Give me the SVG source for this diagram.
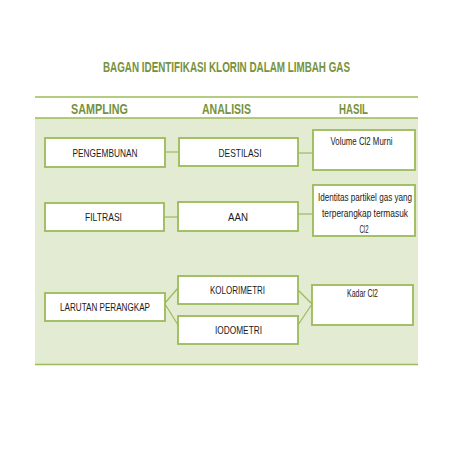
<svg xmlns="http://www.w3.org/2000/svg" width="453" height="453" viewBox="0 0 453 453">
<style>
.title{font-family:"Liberation Sans",Arial,sans-serif;font-weight:bold;fill:#76923c;text-anchor:middle}
.hdr{font-family:"Liberation Sans",Arial,sans-serif;font-weight:bold;fill:#76923c;text-anchor:middle;font-size:15.5px}
.box{fill:#ffffff;stroke:#9bbb59;stroke-width:1.8}
.lbl{font-family:"Liberation Sans",Arial,sans-serif;font-size:11px;fill:#1a1a1a;text-anchor:middle}
.rule{stroke:#9bbb59;stroke-width:1.5}
.con{stroke:#9bbb59;stroke-width:1.2;fill:none}
</style>
<rect width="453" height="453" fill="#ffffff"/>
<text class="title" x="226.5" y="72" font-size="14.5" textLength="247" lengthAdjust="spacingAndGlyphs">BAGAN IDENTIFIKASI KLORIN DALAM LIMBAH GAS</text>
<rect x="35" y="118" width="383" height="246" fill="#e3ebd3"/>
<line class="rule" x1="35" y1="97" x2="418" y2="97"/>
<line class="rule" x1="35" y1="118" x2="418" y2="118"/>
<line class="rule" x1="35" y1="364.5" x2="418" y2="364.5"/>
<text class="hdr" x="99.5" y="113.5" textLength="57" lengthAdjust="spacingAndGlyphs">SAMPLING</text>
<text class="hdr" x="226.5" y="113.5" textLength="49" lengthAdjust="spacingAndGlyphs">ANALISIS</text>
<text class="hdr" x="353.5" y="113.5" textLength="29" lengthAdjust="spacingAndGlyphs">HASIL</text>
<g id="connectors">
<line class="con" x1="165" y1="152" x2="179" y2="152"/>
<line class="con" x1="298" y1="153" x2="313" y2="153"/>
<line class="con" x1="164" y1="217" x2="178" y2="217"/>
<line class="con" x1="298" y1="214" x2="313" y2="214"/>
<line class="con" x1="165" y1="303" x2="178" y2="288"/>
<line class="con" x1="165" y1="304" x2="178" y2="325"/>
<line class="con" x1="298" y1="290" x2="312" y2="304"/>
<line class="con" x1="298" y1="325" x2="312" y2="304"/>
</g>
<g id="pengembunan"><rect class="box" x="45" y="138" width="120" height="29"/><text class="lbl" x="105" y="156.5" textLength="65" lengthAdjust="spacingAndGlyphs">PENGEMBUNAN</text></g>
<g id="destilasi"><rect class="box" x="179" y="138" width="119" height="28"/><text class="lbl" x="240" y="156.5" textLength="43" lengthAdjust="spacingAndGlyphs">DESTILASI</text></g>
<g id="volume"><rect class="box" x="313" y="130" width="102" height="40"/><text class="lbl" x="361.5" y="145" textLength="62" lengthAdjust="spacingAndGlyphs">Volume Cl2 Murni</text></g>
<g id="filtrasi"><rect class="box" x="45" y="203" width="119" height="28"/><text class="lbl" x="103.5" y="221" textLength="37" lengthAdjust="spacingAndGlyphs">FILTRASI</text></g>
<g id="aan"><rect class="box" x="178" y="202" width="120" height="29"/><text class="lbl" x="238" y="220.5" textLength="20" lengthAdjust="spacingAndGlyphs">AAN</text></g>
<g id="identitas"><rect class="box" x="313" y="185" width="102" height="51"/><text class="lbl" x="365" y="201" textLength="94" lengthAdjust="spacingAndGlyphs">Identitas partikel gas yang</text><text class="lbl" x="365" y="217" textLength="86" lengthAdjust="spacingAndGlyphs">terperangkap termasuk</text><text class="lbl" x="364" y="233" textLength="9" lengthAdjust="spacingAndGlyphs">Cl2</text></g>
<g id="larutan"><rect class="box" x="45" y="293" width="120" height="28"/><text class="lbl" x="105" y="310.5" textLength="90" lengthAdjust="spacingAndGlyphs">LARUTAN PERANGKAP</text></g>
<g id="kolorimetri"><rect class="box" x="178" y="276" width="120" height="28"/><text class="lbl" x="237.5" y="294" textLength="55" lengthAdjust="spacingAndGlyphs">KOLORIMETRI</text></g>
<g id="iodometri"><rect class="box" x="178" y="316" width="120" height="28"/><text class="lbl" x="238.5" y="334" textLength="47" lengthAdjust="spacingAndGlyphs">IODOMETRI</text></g>
<g id="kadar"><rect class="box" x="312" y="285" width="101" height="40"/><text class="lbl" x="362.5" y="297" textLength="31" lengthAdjust="spacingAndGlyphs">Kadar Cl2</text></g>
</svg>
